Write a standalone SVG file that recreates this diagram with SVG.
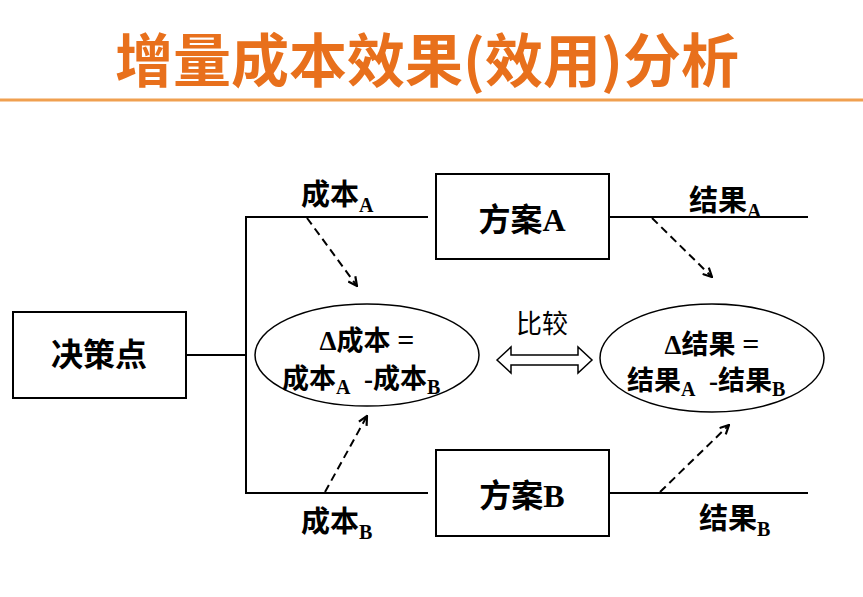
<svg xmlns="http://www.w3.org/2000/svg" width="863" height="597" viewBox="0 0 863 597">
<defs>
<style>
.t{font-family:"Liberation Serif","Noto Sans CJK SC",serif;font-weight:bold;fill:#000}
.ln{stroke:#000;stroke-width:2;fill:none}
.box{stroke:#000;stroke-width:2;fill:#fff}
.dash{stroke:#000;stroke-width:2;fill:none;stroke-dasharray:8 5;marker-end:url(#ah)}
.sub{font-size:20px}
</style>
<marker id="ah" viewBox="0 0 10 10" refX="9" refY="5" markerWidth="11" markerHeight="11" markerUnits="userSpaceOnUse" orient="auto">
<path d="M1,1 L9,5 L1,9" fill="none" stroke="#000" stroke-width="2"/>
</marker>
</defs>
<rect width="863" height="597" fill="#fff"/>
<g id="title">
<text x="427" y="82" text-anchor="middle" font-family="Noto Sans CJK SC, sans-serif" font-weight="bold" font-size="58" fill="#E8701C">增量成本效果(效用)分析</text>
<line x1="0" y1="100" x2="863" y2="100" stroke="#F0A050" stroke-width="3"/>
</g>
<g id="connectors">
<polyline class="ln" points="186,355 246,355"/>
<polyline class="ln" points="428,217 246,217 246,493 428,493"/>
<line class="ln" x1="609" y1="217" x2="808" y2="217"/>
<line class="ln" x1="609" y1="493" x2="808" y2="493"/>
<line class="dash" x1="307" y1="218" x2="357" y2="286"/>
<line class="dash" x1="325" y1="492" x2="367" y2="416"/>
<line class="dash" x1="652" y1="218" x2="712" y2="277"/>
<line class="dash" x1="660" y1="492" x2="729" y2="425"/>
<path d="M497,360 L511,347 L511,355 L578,355 L578,347 L592,360 L578,373 L578,365 L511,365 L511,373 Z" fill="#fff" stroke="#000" stroke-width="1.5"/>
</g>
<g id="decision">
<rect class="box" x="13" y="312" width="173" height="86"/>
<text class="t" x="99" y="366" text-anchor="middle" font-size="32">决策点</text>
</g>
<g id="planA">
<rect class="box" x="436" y="174" width="173" height="85"/>
<text class="t" x="522" y="231" text-anchor="middle" font-size="32">方案A</text>
</g>
<g id="planB">
<rect class="box" x="436" y="450" width="173" height="86"/>
<text class="t" x="522" y="507" text-anchor="middle" font-size="32">方案B</text>
</g>
<g id="costA"><text class="t" x="301" y="205" font-size="29">成本<tspan class="sub" dy="7">A</tspan></text></g>
<g id="costB"><text class="t" x="301" y="532" font-size="29">成本<tspan class="sub" dy="7">B</tspan></text></g>
<g id="resultA"><text class="t" x="689" y="211" font-size="29">结果<tspan class="sub" dy="7">A</tspan></text></g>
<g id="resultB"><text class="t" x="699" y="529" font-size="29">结果<tspan class="sub" dy="7">B</tspan></text></g>
<g id="deltaCost">
<ellipse cx="367" cy="355" rx="112" ry="51" fill="none" stroke="#000" stroke-width="1.5"/>
<text class="t" x="367" y="350" text-anchor="middle" font-size="27">Δ成本 <tspan font-size="30">=</tspan></text>
<text class="t" x="282" y="388" font-size="27">成本<tspan class="sub" dy="6">A</tspan><tspan dy="-6" xml:space="preserve">  -成本</tspan><tspan class="sub" dy="6">B</tspan></text>
</g>
<g id="compare"><text x="542" y="333" text-anchor="middle" font-family="Noto Sans CJK SC, sans-serif" font-size="26" fill="#000">比较</text></g>
<g id="deltaResult">
<ellipse cx="712" cy="358" rx="112" ry="54" fill="none" stroke="#000" stroke-width="1.5"/>
<text class="t" x="712" y="354" text-anchor="middle" font-size="27">Δ结果 <tspan font-size="30">=</tspan></text>
<text class="t" x="627" y="390" font-size="27">结果<tspan class="sub" dy="6">A</tspan><tspan dy="-6" xml:space="preserve">  -结果</tspan><tspan class="sub" dy="6">B</tspan></text>
</g>
</svg>
